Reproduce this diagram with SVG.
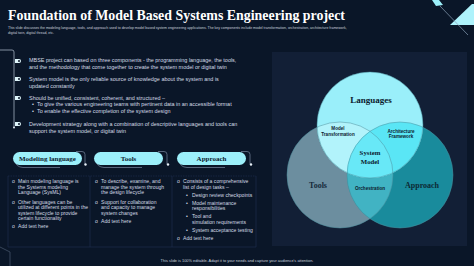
<svg xmlns="http://www.w3.org/2000/svg" width="474" height="266" viewBox="0 0 474 266">
<style>
.sans{font-family:"Liberation Sans",Arial,sans-serif;}
.serif{font-family:"Liberation Serif","Times New Roman",serif;font-weight:bold;}
.body{font-family:"Liberation Sans",Arial,sans-serif;font-size:5.45px;fill:#d4dbe6;}
.col{font-family:"Liberation Sans",Arial,sans-serif;font-size:5.1px;fill:#d4dbe6;}
.pill{fill:#9cf0fa;}
.pilltxt{font-family:"Liberation Serif","Times New Roman",serif;font-weight:bold;font-size:7px;fill:#0b1a2e;text-anchor:middle;}
.deco{fill:none;stroke:#6b7a90;stroke-width:0.8;}
.grid{stroke:#1e3150;stroke-width:0.6;fill:none;}
.venn{font-family:"Liberation Sans",Arial,sans-serif;font-size:4.6px;fill:#0b1a2e;text-anchor:middle;font-weight:bold;}
</style>
<defs>
<clipPath id="cL"><circle cx="370" cy="125" r="53"/></clipPath>
<clipPath id="cT"><circle cx="340" cy="175" r="53"/></clipPath>
<clipPath id="cA"><circle cx="400" cy="175" r="53"/></clipPath>
<g id="tag"><path d="M0,-2 h4 a2,2 0 0 1 0,4 h-4 z" fill="#dff6fb"/><circle cx="4" cy="0" r="1" fill="#0a1628"/></g>
</defs>
<rect width="474" height="266" fill="#0a1628"/>

<!-- top right decoration -->
<g id="corner">
<polygon points="432,0 439,0 443,5 436,6" fill="#9cf0fa"/>
<polygon points="450,25 472,4 474,4 474,25" fill="#aef2fb"/>
<line x1="440" y1="6" x2="468" y2="35" stroke="#8aa0b8" stroke-width="0.7"/>
</g>
<polyline points="0,247 10,252 10,266" fill="none" stroke="#4a5a70" stroke-width="0.7"/>

<!-- title -->
<text x="8" y="20" class="serif" font-size="13.9" fill="#ffffff">Foundation of Model Based Systems Engineering project</text>
<text x="8" y="29" class="sans" font-size="3.5" fill="#c8d0dc">This slide discusses the modeling language, tools, and approach used to develop model based system engineering applications. The key components include model transformation, orchestration, architecture framework,</text>
<text x="8" y="34" class="sans" font-size="3.5" fill="#c8d0dc">digital twin, digital thread, etc.</text>

<!-- left text block -->
<g id="intro">
<path d="M0,50 H12 a2,2 0 0 1 2,2 V127" fill="none" stroke="#b8c4d4" stroke-width="0.7"/>
<circle cx="14" cy="127.5" r="1" fill="#dfe8f2"/>
<use href="#tag" x="15" y="61"/>
<use href="#tag" x="15" y="79"/>
<use href="#tag" x="15" y="98"/>
<use href="#tag" x="15" y="124"/>
<text class="body" x="29" y="62">MBSE project can based on three components - the programming language, the tools,</text>
<text class="body" x="29" y="69">and the methodology that come together to create the system model or digital twin</text>
<text class="body" x="29" y="80.5">System model is the only reliable source of knowledge about the system and is</text>
<text class="body" x="29" y="87.5">updated constantly</text>
<text class="body" x="29" y="99.5">Should be unified, consistent, coherent, and structured –</text>
<text class="body" x="32" y="106">•</text><text class="body" x="37" y="106">To give the various engineering teams with pertinent data in an accessible format</text>
<text class="body" x="32" y="112.5">•</text><text class="body" x="37" y="112.5">To enable the effective completion of the system design</text>
<text class="body" x="29" y="126">Development strategy along with a combination of descriptive languages and tools can</text>
<text class="body" x="29" y="133">support the system model, or digital twin</text>
</g>

<!-- columns grid -->
<g id="grid">
<line class="grid" x1="8" y1="176" x2="256" y2="176" stroke-dasharray="1.5,1"/>
<line class="grid" x1="8" y1="176" x2="8" y2="247"/>
<line class="grid" x1="90" y1="176" x2="90" y2="247"/>
<line class="grid" x1="172" y1="176" x2="172" y2="247"/>
<line class="grid" x1="256" y1="176" x2="256" y2="247"/>
<line class="grid" x1="8" y1="247" x2="256" y2="247"/>
</g>

<!-- pills -->
<g id="pill-modeling">
<path class="deco" d="M76,151.5 H82 a3,3 0 0 1 3,3 V164"/>
<path class="deco" d="M15,161 q1,6 8,6.5 H60"/>
<rect class="pill" x="13" y="152" width="69" height="13" rx="6.5"/>
<circle cx="85.5" cy="164.5" r="1.2" fill="#e8f0f8"/>
<text class="pilltxt" x="47.5" y="161">Modeling language</text>
</g>
<g id="pill-tools">
<path class="deco" d="M158,151.5 H164 a3,3 0 0 1 3,3 V164"/>
<path class="deco" d="M96,161 q1,6 8,6.5 H142"/>
<rect class="pill" x="94" y="152" width="69" height="13" rx="6.5"/>
<circle cx="168" cy="164.5" r="1.2" fill="#e8f0f8"/>
<text class="pilltxt" x="128.5" y="161">Tools</text>
</g>
<g id="pill-approach">
<path class="deco" d="M241,151.5 H247 a3,3 0 0 1 3,3 V164"/>
<path class="deco" d="M179,161 q1,6 8,6.5 H225"/>
<rect class="pill" x="177" y="152" width="69" height="13" rx="6.5"/>
<circle cx="251" cy="164.5" r="1.2" fill="#e8f0f8"/>
<text class="pilltxt" x="211.5" y="161">Approach</text>
</g>

<!-- column texts -->
<g id="col-modeling">
<text class="col" x="12" y="183">o</text>
<text class="col" x="18" y="183">Main modeling language is</text>
<text class="col" x="18" y="188.5">the Systems modeling</text>
<text class="col" x="18" y="194">Language (SysML)</text>
<text class="col" x="12" y="203.5">o</text>
<text class="col" x="18" y="203.5">Other languages can be</text>
<text class="col" x="18" y="209">utilized at different points in the</text>
<text class="col" x="18" y="214.5">system lifecycle to provide</text>
<text class="col" x="18" y="220">certain functionality</text>
<text class="col" x="12" y="228">o</text>
<text class="col" x="18" y="228">Add text here</text>
</g>
<g id="col-tools">
<text class="col" x="95" y="183">o</text>
<text class="col" x="101" y="183">To describe, examine, and</text>
<text class="col" x="101" y="188.5">manage the system through</text>
<text class="col" x="101" y="194">the design lifecycle</text>
<text class="col" x="95" y="203.5">o</text>
<text class="col" x="101" y="203.5">Support for collaboration</text>
<text class="col" x="101" y="209">and capacity to manage</text>
<text class="col" x="101" y="214.5">system changes</text>
<text class="col" x="95" y="222.5">o</text>
<text class="col" x="101" y="222.5">Add text here</text>
</g>
<g id="col-approach">
<text class="col" x="177" y="183">o</text>
<text class="col" x="183" y="183">Consists of a comprehensive</text>
<text class="col" x="183" y="188.5">list of design tasks –</text>
<text class="col" x="186" y="197">•</text><text class="col" x="192" y="197">Design review  checkpoints</text>
<text class="col" x="186" y="204.5">•</text><text class="col" x="192" y="204.5">Model maintenance</text>
<text class="col" x="192" y="210">responsibilities</text>
<text class="col" x="186" y="218">•</text><text class="col" x="192" y="218">Tool and</text>
<text class="col" x="192" y="223.5">simulation requirements</text>
<text class="col" x="186" y="231.5">•</text><text class="col" x="192" y="231.5">System acceptance testing</text>
<text class="col" x="177" y="240">o</text>
<text class="col" x="183" y="240">Add text here</text>
</g>

<!-- right panel with Venn -->
<rect x="272" y="52" width="195" height="194" fill="#121f36"/>
<g id="venn">
<g id="circle-tools"><circle cx="340" cy="175" r="53" fill="#6c8e9f"/></g>
<g id="circle-approach"><circle cx="400" cy="175" r="53" fill="#198b9c"/></g>
<g id="circle-languages"><circle cx="370" cy="125" r="53" fill="#9aeffa"/></g>
<g clip-path="url(#cT)"><circle cx="400" cy="175" r="53" fill="#41b3c3"/></g>
<g clip-path="url(#cL)"><circle cx="340" cy="175" r="53" fill="#b2f3fb"/><circle cx="400" cy="175" r="53" fill="#5ae6f5"/></g>
<g clip-path="url(#cL)"><g clip-path="url(#cT)"><circle cx="400" cy="175" r="53" fill="#68e8f7"/></g></g>
<circle cx="370" cy="125" r="53" fill="none" stroke="#4a8e9c" stroke-width="0.5"/>
<circle cx="340" cy="175" r="53" fill="none" stroke="#4a8e9c" stroke-width="0.5"/>
<circle cx="400" cy="175" r="53" fill="none" stroke="#4a8e9c" stroke-width="0.5"/>
<text class="serif" x="371" y="103" font-size="9" fill="#0b1a2e" text-anchor="middle">Languages</text>
<text class="venn" x="338" y="130">Model</text>
<text class="venn" x="338" y="135.5">Transformation</text>
<text class="venn" x="401" y="132.5">Architecture</text>
<text class="venn" x="401" y="138">Framework</text>
<text class="serif" x="370" y="155" font-size="6.8" fill="#0b1a2e" text-anchor="middle">System</text>
<text class="serif" x="370" y="164" font-size="6.8" fill="#0b1a2e" text-anchor="middle">Model</text>
<text class="serif" x="318" y="188" font-size="8" fill="#15293a" text-anchor="middle">Tools</text>
<text class="venn" x="370" y="189.5" font-weight="normal">Orchestration</text>
<text class="serif" x="422" y="188" font-size="8" fill="#0c2a35" text-anchor="middle">Approach</text>
</g>

<text class="sans" x="237" y="262" font-size="3.9" fill="#c8d0dc" text-anchor="middle">This slide is 100% editable. Adapt it to your needs and capture your audience's attention.</text>
</svg>
